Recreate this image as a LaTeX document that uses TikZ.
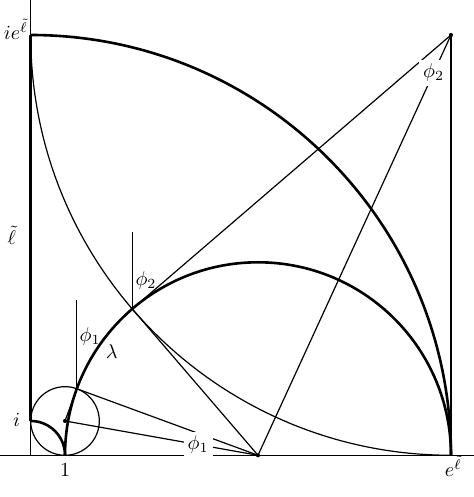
\documentclass[tikz,border=0pt]{standalone}
\usepackage{amsmath, amssymb}
\usepackage{tikz}
\usetikzlibrary{calc}

\begin{document}
\begin{tikzpicture}[x=17.15pt,y=17.15pt,
        thinline/.style={line width=0.6pt},
        boldline/.style={line width=1.3pt},
        onlabel/.style={fill=white,inner sep=2pt},
        dotmark/.style={radius=0.06}]
        \useasboundingbox (-0.895,-1.216) rectangle (12.92,13.27);
        \pgfmathsetmacro{\Lmax}{12.25}
        \pgfmathsetmacro{\Rad}{(\Lmax-1)/2}
        \pgfmathsetmacro{\Cx}{(\Lmax+1)/2}
        \pgfmathsetmacro{\angT}{180-2*atan(1/\Rad)}
        \pgfmathsetmacro{\angP}{2*atan(\Lmax/\Rad)}
        
        % Points
        \coordinate (O) at (0,0);
        \coordinate (one) at (1,0);
        \coordinate (i) at (0,1);
        \coordinate (S) at (1,1);
        \coordinate (C) at (\Cx,0);
        \coordinate (Q) at (\Lmax,\Lmax);
        \coordinate (eL) at (\Lmax,0);
        \coordinate (ieL) at (0,\Lmax);
        \coordinate (T) at ($(C)+(\angT:\Rad)$);
        \coordinate (P) at ($(C)+(\angP:\Rad)$);
        \coordinate (Tup) at ($(T)+(0,2.6)$);
        \coordinate (Pup) at ($(P)+(0,2.25)$);
        \coordinate (xleft) at (-0.895,0);
        \coordinate (xright) at (12.92,0);
        \coordinate (ytop) at (0,13.27);
        
        %Shape: Axes
        \draw [thinline] (xleft) -- (xright) ;
        \draw [thinline] (O) -- (ytop) ;
        \draw [boldline] (i) -- (ieL) ;
        
        %Shape: Arcs
        \draw [boldline] (i) arc [start angle=90,end angle=0,radius=1] ;
        \draw [boldline] (ieL) arc [start angle=90,end angle=0,radius=\Lmax] ;
        \draw [boldline] (one) arc [start angle=180,end angle=0,radius=\Rad] ;
        \draw [thinline] (ieL) arc [start angle=180,end angle=270,radius=\Lmax] ;
        %Shape: Circle
        \draw [thinline] (S) circle [radius=1] ;
        
        %Shape: Lines
        \draw [thinline] (Q) -- (eL) ;
        \draw [thinline] (Q) -- (P) ;
        \draw [thinline] (P) -- (C) ;
        \draw [thinline] (C) -- (T) ;
        \draw [thinline] (S) -- (T) ;
        \draw [thinline] (T) -- (Tup) ;
        \draw [thinline] (P) -- (Pup) ;
        \draw [thinline] (C) -- (S) node [onlabel,pos=0.31] (phiCS) {$\phi_1$} ;
        \draw [thinline] (Q) -- (C) node [onlabel,pos=0.09] (phiQC) {$\phi_2$} ;
        
        %Shape: Dots
        \fill (S) circle [dotmark] ;
        \fill (C) circle [dotmark] ;
        \fill (Q) circle [dotmark] ;
        
        % Text Node
        \node [anchor=base] (labi) at (-0.41,0.83) {$i$};
        % Text Node
        \node [anchor=base] (labone) at (1,-0.63) {$1$};
        % Text Node
        \node [anchor=base] (labeL) at (12.32,-0.63) {$e^{\tilde\ell}$};
        % Text Node
        \node [anchor=base east,inner sep=0pt] (labieL) at (-0.07,12.11) {$ie^{\tilde\ell}$};
        % Text Node
        \node (labell) at (-0.55,6.42) {$\tilde\ell$};
        % Text Node
        \node (phiT) at (1.73,3.45) {$\phi_1$};
        % Text Node
        \node (phiP) at (3.36,5.08) {$\phi_2$};
        % Text Node
        \node (lam) at (2.36,3.03) {$\lambda$};
        
\end{tikzpicture}
\end{document}
